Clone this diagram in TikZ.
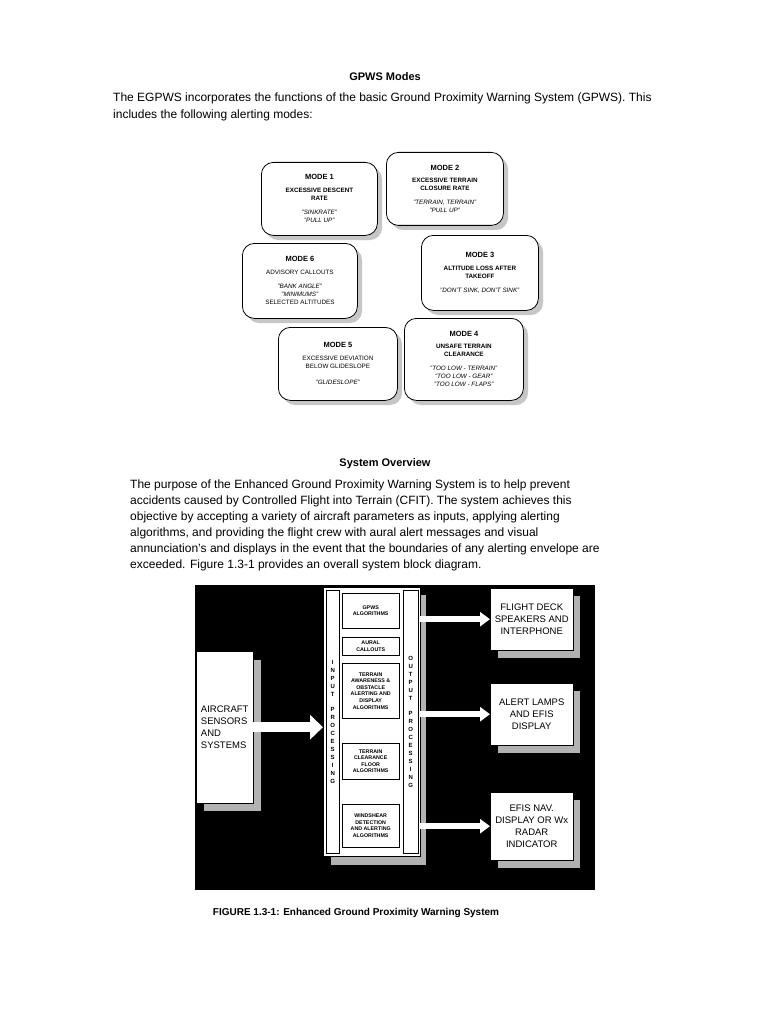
\documentclass[tikz,border=0pt]{standalone}
\usepackage{fontspec}
\setmainfont{Liberation Sans}
\usetikzlibrary{arrows.meta}
\begin{document}
\begin{tikzpicture}[x=1pt,y=-1pt,
  para/.style={anchor=west,inner sep=0,font=\fontsize{12}{14}\selectfont},
  head/.style={inner sep=0,font=\bfseries\fontsize{11}{13}\selectfont},
  modebox/.style={draw,thick,fill=white,rounded corners=12pt,align=center,inner sep=2pt,font=\fontsize{6.3}{8}\selectfont},
  shadowm/.style={fill=gray!45,rounded corners=12pt},
  wbox/.style={draw=black,fill=white,inner sep=0},
  sh/.style={fill=gray!60},
  small/.style={inner sep=0,align=center,font=\bfseries\fontsize{5.3}{6.6}\selectfont},
  big/.style={inner sep=0,align=center,font=\fontsize{9.5}{12}\selectfont},
  fat/.style={white,line width=10pt,-{Triangle[length=13pt,width=24pt]}},
  thin/.style={white,line width=6pt,-{Triangle[length=10pt,width=14pt]}}]
\useasboundingbox[fill=white] (0,0) rectangle (768,1024);
% header text
\node[head] (t1) at (385,77) {GPWS Modes};
\node[para] (p1) at (113,98) {The EGPWS incorporates the functions of the basic Ground Proximity Warning System (GPWS). This};
\node[para] (p2) at (113,115) {includes the following alerting modes:};
% modes
\newcommand{\modeb}[6]{%
 \fill[shadowm] (#1+5,#2+5) rectangle (#3+5,#4+5);
 \node[modebox,minimum width=#3-#1,minimum height=#4-#2,anchor=north west] (#5) at (#1,#2) {#6};}
\modeb{261}{162}{377}{235}{m1}{\textbf{\fontsize{7.5}{9}\selectfont MODE 1}\\[5pt]\textbf{EXCESSIVE DESCENT}\\\textbf{RATE}\\[6pt]\textit{"SINKRATE"}\\\textit{"PULL UP"}}
\modeb{386}{152}{503}{225}{m2}{\textbf{\fontsize{7.5}{9}\selectfont MODE 2}\\[4pt]\textbf{EXCESSIVE TERRAIN}\\\textbf{CLOSURE RATE}\\[6pt]\textit{"TERRAIN, TERRAIN"}\\\textit{"PULL UP"}}
\modeb{242}{243}{357}{318}{m6}{\textbf{\fontsize{7.5}{9}\selectfont MODE 6}\\[5pt]ADVISORY CALLOUTS\\[6pt]\textit{"BANK ANGLE"}\\\textit{"MINIMUMS"}\\SELECTED ALTITUDES}
\modeb{421}{235}{538}{310}{m3}{\textbf{\fontsize{7.5}{9}\selectfont MODE 3}\\[5pt]\textbf{ALTITUDE LOSS AFTER}\\\textbf{TAKEOFF}\\[6pt]\textit{"DON'T SINK, DON'T SINK"}}
\modeb{278}{327}{397}{400}{m5}{\textbf{\fontsize{7.5}{9}\selectfont MODE 5}\\[5pt]EXCESSIVE DEVIATION\\BELOW GLIDESLOPE\\[8pt]\textit{"GLIDESLOPE"}}
\modeb{404}{318}{523}{400}{m4}{\textbf{\fontsize{7.5}{9}\selectfont MODE 4}\\[4pt]\textbf{UNSAFE TERRAIN}\\\textbf{CLEARANCE}\\[6pt]\textit{"TOO LOW - TERRAIN"}\\\textit{"TOO LOW - GEAR"}\\\textit{"TOO LOW - FLAPS"}}
% system overview
\node[head] (t2) at (385,464) {System Overview};
\node[para] (q1) at (130,485) {The purpose of the Enhanced Ground Proximity Warning System is to help prevent};
\node[para] (q2) at (130,501) {accidents caused by Controlled Flight into Terrain (CFIT). The system achieves this};
\node[para] (q3) at (130,517) {objective by accepting a variety of aircraft parameters as inputs, applying alerting};
\node[para] (q4) at (130,533) {algorithms, and providing the flight crew with aural alert messages and visual};
\node[para] (q5) at (130,549) {annunciation's and displays in the event that the boundaries of any alerting envelope are};
\node[para] (q6) at (130,565) {exceeded. Figure 1.3-1 provides an overall system block diagram.};
% block diagram
\fill[black] (195,585) rectangle (595,890);
\fill[sh] (204,660) rectangle (261,811);
\node[wbox,minimum width=57,minimum height=152,anchor=north west,big,align=left] (air) at (196,651) {AIRCRAFT\\SENSORS\\AND\\SYSTEMS};
\fill[sh] (331,595) rectangle (426,865);
\node[wbox,minimum width=97,minimum height=269,anchor=north west] (main) at (323,587) {};
\node[wbox,minimum width=13,minimum height=263,anchor=north west,small,font=\bfseries\fontsize{6}{7.9}\selectfont] (inp) at (326,590) {I\\N\\P\\U\\T\\[8pt]P\\R\\O\\C\\E\\S\\S\\I\\N\\G};
\node[wbox,minimum width=15,minimum height=263,anchor=north west,small,font=\bfseries\fontsize{6}{7.9}\selectfont] (outp) at (403,590) {O\\U\\T\\P\\U\\T\\[8pt]P\\R\\O\\C\\E\\S\\S\\I\\N\\G};
\node[wbox,minimum width=57,minimum height=35,anchor=north west,small] (g1) at (342,593) {GPWS\\ALGORITHMS};
\node[wbox,minimum width=57,minimum height=18,anchor=north west,small] (g2) at (342,637) {AURAL\\CALLOUTS};
\node[wbox,minimum width=57,minimum height=55,anchor=north west,small] (g3) at (342,663) {TERRAIN\\AWARENESS \&\\OBSTACLE\\ALERTING AND\\DISPLAY\\ALGORITHMS};
\node[wbox,minimum width=57,minimum height=36,anchor=north west,small] (g4) at (342,743) {TERRAIN\\CLEARANCE\\FLOOR\\ALGORITHMS};
\node[wbox,minimum width=57,minimum height=43,anchor=north west,small] (g5) at (342,804) {WINDSHEAR\\DETECTION\\AND ALERTING\\ALGORITHMS};
\fill[sh] (498,596) rectangle (580,658);
\node[wbox,minimum width=83,minimum height=62,anchor=north west,big] (o1) at (490,588) {FLIGHT DECK\\SPEAKERS AND\\INTERPHONE};
\fill[sh] (498,691) rectangle (580,753);
\node[wbox,minimum width=83,minimum height=62,anchor=north west,big] (o2) at (490,683) {ALERT LAMPS\\AND EFIS\\DISPLAY};
\fill[sh] (498,800) rectangle (580,868);
\node[wbox,minimum width=83,minimum height=68,anchor=north west,big] (o3) at (490,792) {EFIS NAV.\\DISPLAY OR Wx\\RADAR\\INDICATOR};
\draw[fat] (air.east) -- (main.west |- air.east);
\draw[thin] (main.east |- o1.west) -- (o1.west);
\draw[thin] (main.east |- o2.west) -- (o2.west);
\draw[thin] (main.east |- o3.west) -- (o3.west);
\node[head,font=\bfseries\fontsize{10}{12}\selectfont] (cap) at (356,913) {FIGURE 1.3-1: Enhanced Ground Proximity Warning System};
\end{tikzpicture}
\end{document}
